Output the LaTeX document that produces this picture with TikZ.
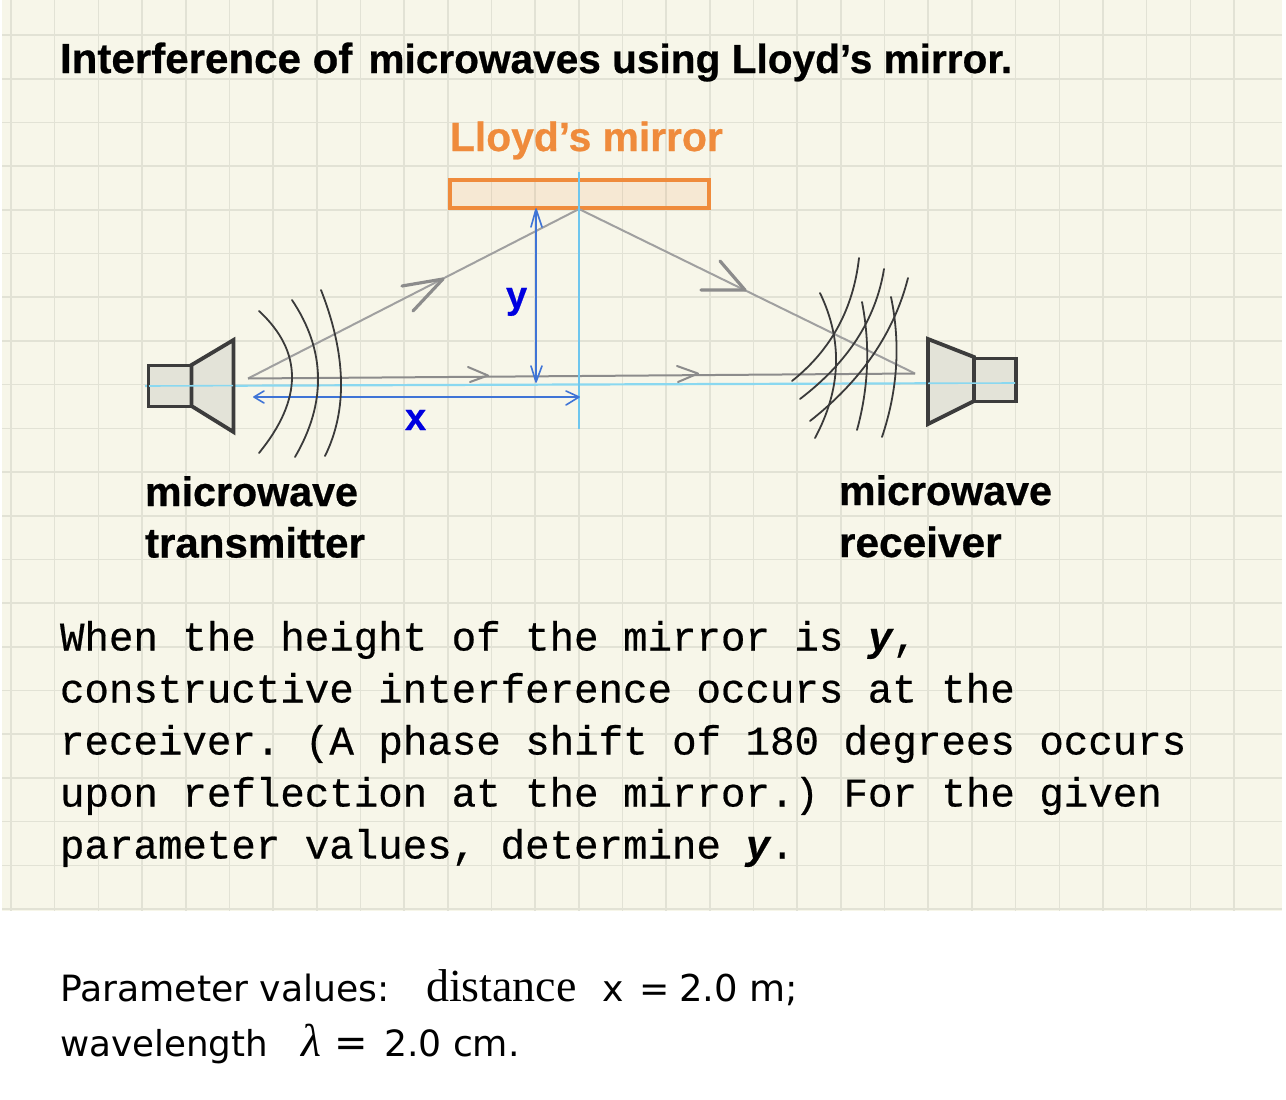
\documentclass[tikz,border=0pt]{standalone}
\usepackage{fontspec}
\setmainfont[BoldFeatures={FakeBold=0.6}]{Liberation Sans}
\newfontfamily\bodymono[FakeBold=0.5,BoldFeatures={FakeBold=0.8}]{Liberation Mono}
\newfontfamily\paramfont{DejaVu Sans}
\newfontfamily\timesfont{Liberation Serif}
\definecolor{paper}{HTML}{F7F6E9}
\definecolor{gridc}{HTML}{E2E2D5}
\definecolor{hornfill}{HTML}{E3E3D8}
\definecolor{horndraw}{HTML}{3C3C3C}
\definecolor{ray}{HTML}{A0A0A0}
\definecolor{raydark}{HTML}{8C8C8C}
\definecolor{axisc}{HTML}{8AD8F0}
\definecolor{axisv}{HTML}{6EC6EE}
\definecolor{dimc}{HTML}{3F74D6}
\definecolor{labelblue}{HTML}{0000E0}
\definecolor{mirrorc}{HTML}{EF8B3C}
\definecolor{wave}{HTML}{3A3A3A}
\tikzset{
  txt/.style={anchor=base west,inner sep=0pt,outer sep=0pt},
  heading/.style={txt,font=\bfseries},
  devlabel/.style={txt,font=\fontsize{41.2}{43}\bfseries\selectfont},
  axislabel/.style={txt,text=labelblue,font=\fontsize{38}{40}\bfseries\selectfont},
  bodytext/.style={txt,font=\fontsize{40.8}{42}\bodymono\selectfont},
  paramtext/.style={txt,font=\fontsize{36.2}{40}\paramfont\selectfont},
  hornpart/.style={draw=horndraw,fill=hornfill,line width=3.8pt,line join=miter},
  boxpart/.style={hornpart,inner sep=0pt,outer sep=0pt,anchor=north west},
  gridline/.style={gridc,line width=1.6pt},
  rayline/.style={ray,line width=2pt},
  raydirect/.style={raydark,line width=2pt},
  bigbarb/.style={raydark,line width=3.2pt,line cap=round,line join=round},
  smallbarb/.style={raydark,line width=2pt,line cap=round,line join=round},
  dimline/.style={dimc,line width=1.8pt},
  dimbarb/.style={dimc,line width=1.6pt,line cap=round,line join=round},
  wavearc/.style={wave,line width=1.8pt,line cap=round},
}
\begin{document}
\begin{tikzpicture}[x=1pt,y=-1pt]
\useasboundingbox (0,0) rectangle (1286,1100);
\fill[white] (0,0) rectangle (1286,1100);
\fill[paper] (2,0) rectangle (1282,911);
% grid
\foreach \k in {0,...,28} {\draw[gridline] ({11+43.68*\k},0) -- ({11+43.68*\k},911);}
\foreach \k in {0,...,20} {\draw[gridline] (2,{35+43.7*\k}) -- (1282,{35+43.7*\k});}

% anchor points
\coordinate (src) at (248,378.5);
\coordinate (refl) at (579,209);
\coordinate (dst) at (915,373.5);
\coordinate (axisL) at (145,386);
\coordinate (axisR) at (1015,383);
\coordinate (vtop) at (579,172);
\coordinate (vbot) at (579,429);
\coordinate (xL) at (254,397);
\coordinate (xR) at (579,397);
\coordinate (yT) at (536,209);
\coordinate (yB) at (536,382);

% mirror
\node[draw=mirrorc,fill=mirrorc,fill opacity=0.12,draw opacity=1,line width=3.2pt,minimum width=259pt,minimum height=28pt,inner sep=0pt,outer sep=0pt,anchor=north west] (mirror) at (450,180) {};

% rays
\draw[rayline] (src) -- (refl) -- (dst);
\draw[raydirect] (src) -- (dst);
\draw[bigbarb] (402,286) -- (443,279) -- (413,311);
\draw[bigbarb] (701,290) -- (745,290) -- (720,261);
\draw[smallbarb] (468,367) -- (488,375.5) -- (470,382);
\draw[smallbarb] (677,366) -- (698,373.5) -- (678,382);

% axes
\draw[axisc,line width=2.2pt] (axisL) -- (axisR);
\draw[axisv,line width=1.3pt] (vtop) -- (vbot);

% transmitter
\node[boxpart,minimum width=43pt,minimum height=41pt] (txbox) at (148.5,365.5) {};
\draw[hornpart] (191.5,365) -- (233.5,340) -- (233.5,432) -- (191.5,406) -- cycle;
% receiver
\draw[hornpart] (928,339) -- (928,424) -- (974,401) -- (974,357) -- cycle;
\node[boxpart,minimum width=42pt,minimum height=43pt] (rxbox) at (974,358.5) {};
\draw[axisc,line width=1.6pt] (149,386) -- (233,385.6);
\draw[axisc,line width=1.6pt] (928,383.3) -- (1015,383);

% dimension arrows
\draw[dimline] (xL) -- (xR);
\draw[dimbarb] (264,391) -- (xL) -- (264,403);
\draw[dimbarb] (566,391) -- (xR) -- (566,405);
\draw[dimline] (yT) -- (yB);
\draw[dimbarb] (531,227) -- (yT) -- (542,227);
\draw[dimbarb] (531,366) -- (yB) -- (542,366);

% waves: transmitter
\draw[wavearc] (259,311) .. controls (303,351.7) and (303,399) .. (259,453);
\draw[wavearc] (292,300) .. controls (325.7,350.3) and (326.7,402.7) .. (295,457);
\draw[wavearc] (321,290) .. controls (346.3,354.7) and (347.7,410) .. (325,456);
% waves: receiver
\draw[wavearc] (820,293) .. controls (843,340.7) and (841.3,389) .. (815,438);
\draw[wavearc] (862,302) .. controls (870.3,344.7) and (868.7,387.3) .. (857,430);
\draw[wavearc] (891,297) .. controls (900.7,343.7) and (897.7,390.3) .. (882,437);
\draw[wavearc] (859,258) .. controls (853.3,309) and (831,350) .. (792,381);
\draw[wavearc] (884,269) .. controls (876,319) and (848,362.3) .. (800,399);
\draw[wavearc] (908,278) .. controls (894,333) and (861.3,380.7) .. (810,421);

% labels
\node[heading] (title) at (60,73) {{\fontsize{42.1}{44}\selectfont Interference of}\hspace{16pt}{\fontsize{40.6}{44}\selectfont microwaves using Lloyd’s mirror.}};
\node[devlabel,text=mirrorc,font=\fontsize{40.8}{43}\bfseries\selectfont] (mlabel) at (450,151) {Lloyd’s mirror};
\node[axislabel] (ylabel) at (506,308) {y};
\node[axislabel] (xlabel) at (405,430) {x};
\node[devlabel] (t1) at (145,506) {microwave};
\node[devlabel,font=\fontsize{42.1}{43}\bfseries\selectfont] (t2) at (145,557.5) {transmitter};
\node[devlabel] (r1) at (839,505) {microwave};
\node[devlabel,font=\fontsize{42.4}{43}\bfseries\selectfont] (r2) at (839,557) {receiver};

\node[bodytext] (b1) at (60,650.5) {When the height of the mirror is {\bfseries\itshape y},};
\node[bodytext] (b2) at (60,702.5) {constructive interference occurs at the};
\node[bodytext] (b3) at (60,754.5) {receiver.\hspace{-8pt} (A phase shift of 180 degrees occurs};
\node[bodytext] (b4) at (60,806.5) {upon reflection at the mirror.)\hspace{-8pt} For the given};
\node[bodytext] (b5) at (60,858.5) {parameter values, determine {\bfseries\itshape y}.};

\node[paramtext] (p1) at (60,1001.5) {Parameter values:};
\node[txt,font=\fontsize{46}{48}\timesfont\selectfont] (p2) at (426,1001.5) {distance};
\node[paramtext] (p3) at (602,1001.5) {x};
\node[paramtext] (p3b) at (639,1001.5) {=};
\node[paramtext,font=\fontsize{37}{40}\paramfont\selectfont] (p3c) at (679,1001.5) {2.0 m;};
\node[paramtext,font=\fontsize{35.7}{40}\paramfont\selectfont] (p4) at (60,1056) {wavelength};
\node[txt,font=\fontsize{46}{48}\timesfont\itshape\selectfont] (p5) at (301,1056) {λ};
\node[paramtext,font=\fontsize{40}{42}\paramfont\selectfont] (p6) at (334,1056) {=};
\node[paramtext] (p7) at (384,1056) {2.0 cm.};
\end{tikzpicture}
\end{document}
